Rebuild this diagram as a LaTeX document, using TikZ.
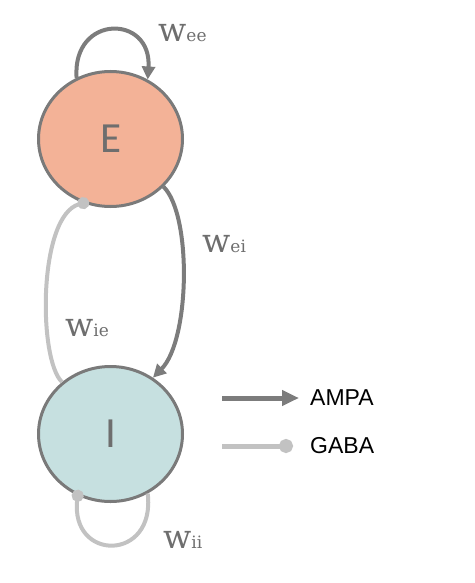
\documentclass[tikz,border=0pt]{standalone}
\usepackage{fontspec}
\setmainfont{DejaVu Serif}
\newfontfamily\nodefont{Carlito}
\newfontfamily\legfont{Liberation Sans}
\usetikzlibrary{arrows.meta,shapes.geometric}
\definecolor{efill}{HTML}{F3B297}
\definecolor{ifill}{HTML}{C6E0E0}
\definecolor{edgegray}{HTML}{7A7A7A}
\definecolor{darkarrow}{HTML}{7C7C7C}
\definecolor{lightline}{HTML}{C2C2C2}
\definecolor{txtgray}{HTML}{6E6E6E}
\tikzset{
  pop/.style={ellipse, draw=edgegray, line width=3pt, minimum width=144pt, minimum height=135pt, inner sep=0pt,
    text=txtgray, font=\nodefont\fontsize{43}{43}\selectfont},
  ampa/.style={draw=darkarrow, line width=4pt, -{Triangle[length=13pt,width=13pt]}},
  gaba/.style={draw=lightline, line width=4pt, {Circle[length=12pt]}-, shorten <=-6pt},
  gabaleg/.style={draw=lightline, line width=5pt, -{Circle[length=14pt]}},
  ampaleg/.style={draw=darkarrow, line width=5pt, -{Triangle[length=17pt,width=15pt]}},
  wlabel/.style={anchor=base west, inner sep=0pt, text=txtgray},
  legtext/.style={anchor=west, inner sep=0pt, font=\legfont\fontsize{23}{23}\selectfont}
}
\newcommand{\wlab}[1]{{\fontsize{33}{33}\selectfont w}{\fontsize{17}{17}\selectfont #1}}
\begin{document}
\begin{tikzpicture}[x=1pt,y=-1pt]
\useasboundingbox (0,0) rectangle (474,583);
\node[pop, fill=efill] (E) at (110.5,139) {E};
\node[pop, fill=ifill] (I) at (110.5,434) {I};
% E -> E
\draw[ampa] (E.119) .. controls (72,14) and (152,14) .. (E.58);
% E -> I
\draw[ampa] (E.-42) .. controls (192,215) and (190,340) .. (I.53);
% I -| E
\draw[gaba] (E.-113) .. controls (38,215) and (38,360) .. (I.133);
% I -| I
\draw[gaba] (I.-118) .. controls (70,562) and (156,562) .. (I.-58);
% labels
\node[wlabel] (lee) at (158,42) {\wlab{ee}};
\node[wlabel] (lei) at (202,252) {\wlab{ei}};
\node[wlabel] (lie) at (65,336) {\wlab{ie}};
\node[wlabel] (lii) at (163,548) {\wlab{ii}};
% legend
\coordinate (a1) at (222,398);
\coordinate (a2) at (299,398);
\coordinate (g1) at (222,446);
\coordinate (g2) at (293,446);
\draw[ampaleg] (a1) -- (a2);
\draw[gabaleg] (g1) -- (g2);
\node[legtext] (ampa) at (310,398) {AMPA};
\node[legtext] (gaba) at (310,446) {GABA};
\end{tikzpicture}
\end{document}
